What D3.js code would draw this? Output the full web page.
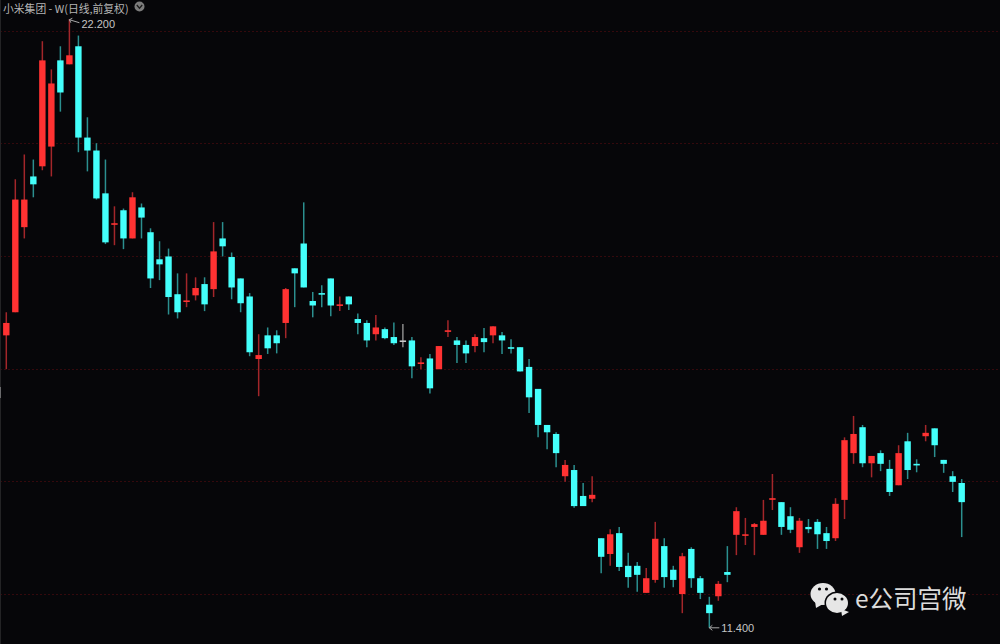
<!DOCTYPE html>
<html><head><meta charset="utf-8">
<script src="https://cdn.jsdelivr.net/npm/d3@7/dist/d3.min.js"></script>
<style>html,body{margin:0;padding:0;background:#060609;overflow:hidden}svg{display:block}</style>
</head><body><svg id="c" width="1000" height="644"></svg>
<script>
const opens=[16.59,17.00,18.51,19.41,19.59,19.94,21.47,21.40,21.72,20.10,19.87,19.11,18.56,18.81,18.31,18.86,18.42,17.94,17.99,17.32,17.20,17.30,17.50,17.41,18.31,17.98,17.60,17.28,16.17,16.59,16.59,16.81,17.78,18.22,17.20,17.34,17.60,17.12,17.28,16.88,16.81,16.61,16.70,16.56,16.50,16.50,16.10,16.18,15.99,16.66,16.50,16.42,16.40,16.54,16.59,16.59,16.38,16.38,16.03,15.64,15.00,14.84,14.09,14.20,13.74,13.69,12.99,12.71,13.08,12.50,12.50,12.02,12.25,12.85,12.43,12.00,12.80,12.28,11.81,11.96,12.39,13.05,13.05,13.19,13.05,13.69,13.63,13.38,12.83,13.19,13.28,13.08,12.99,13.67,14.50,14.96,14.32,14.50,14.22,13.93,14.71,14.31,14.80,14.94,14.38,14.09,13.97];
const closes=[16.81,19.00,19.00,19.27,21.47,21.06,20.90,21.56,20.10,19.87,19.02,18.24,18.58,18.31,19.04,18.68,17.60,17.85,17.27,17.00,17.21,17.43,17.14,18.08,18.17,17.44,17.16,16.29,16.24,16.36,16.45,17.41,17.69,17.44,17.12,17.32,17.12,17.14,17.14,16.81,16.50,16.73,16.54,16.45,16.50,16.04,16.11,15.65,16.40,16.68,16.42,16.27,16.56,16.47,16.75,16.50,16.36,15.95,15.49,15.00,14.87,14.50,14.29,13.56,13.56,13.76,12.66,13.06,12.48,12.30,12.34,12.28,12.98,12.30,12.25,12.67,12.28,12.02,11.66,12.18,12.34,13.47,13.06,13.24,13.30,13.70,13.19,13.14,13.30,13.15,13.06,12.94,13.60,14.73,14.84,14.32,14.45,14.31,13.81,14.50,14.20,14.29,14.86,14.64,14.31,13.99,13.63];
const highs=[17.00,19.36,19.80,19.71,21.81,21.31,21.72,22.20,21.91,20.46,20.00,19.71,18.88,18.84,19.13,18.93,18.49,18.26,18.13,17.69,17.69,17.62,17.62,18.60,18.60,18.06,17.60,17.34,16.61,16.73,16.68,17.43,17.78,18.95,17.36,17.48,17.60,17.28,17.28,16.98,16.86,16.95,16.73,16.82,16.79,16.56,16.20,16.26,16.40,16.86,16.56,16.50,16.61,16.72,16.75,16.65,16.52,16.38,16.17,15.64,15.00,14.87,14.38,14.29,13.97,14.09,12.99,13.15,13.19,12.73,12.57,12.46,13.28,12.99,12.50,12.73,12.83,12.32,11.95,12.23,12.85,13.54,13.35,13.26,13.67,14.13,13.63,13.54,13.35,13.33,13.33,13.19,13.70,14.78,15.16,15.00,14.45,14.55,14.38,14.64,14.86,14.39,15.00,14.94,14.38,14.18,14.04];
const lows=[15.99,17.00,18.31,19.04,19.52,19.41,20.56,21.40,19.84,19.50,19.00,18.21,18.19,18.12,18.31,18.31,17.43,17.57,16.96,16.89,17.09,17.21,17.02,17.27,17.99,17.23,17.00,16.22,15.51,16.26,16.27,16.54,17.09,17.44,16.91,17.09,16.93,17.02,17.04,16.61,16.38,16.50,16.52,16.42,16.38,15.83,15.99,15.56,15.99,16.56,16.10,16.10,16.29,16.29,16.45,16.26,16.27,15.95,15.21,14.78,14.57,14.25,13.99,13.53,13.56,13.63,12.37,12.50,12.41,12.11,12.04,12.02,12.20,12.11,12.12,11.66,12.11,11.91,11.40,11.88,12.21,12.69,12.87,12.69,13.05,13.49,13.05,13.08,12.73,13.08,12.80,12.80,12.94,13.33,14.31,14.25,14.07,14.18,13.74,13.93,14.04,14.16,14.71,14.43,14.15,13.81,13.01];
const gridLevels=[12,14,16,18,20,22];
const titleText="小米集团 - W(日线,前复权)";
const highLabel="22.200", lowLabel="11.400";
const watermark="e公司宫微";

const BG="#060609",UP="#ff3232",DOWN="#44fffb",UPW="#a3262a",DOWNW="#2b8f8f",FLAT="#c8c8c8",FLATW="#8a8a8a";
const svg=d3.select("#c");
const x=d3.scalePoint().domain(d3.range(opens.length)).range([6.3,961.7]);
const y=d3.scaleLinear().domain([12,22]).range([594,30.5]);

svg.append("g").selectAll("line").data(gridLevels).join("line")
 .attr("x1",0).attr("x2",1000).attr("y1",d=>Math.round(y(d))+.5).attr("y2",d=>Math.round(y(d))+.5)
 .attr("stroke","#34090d").attr("stroke-width",1).attr("stroke-dasharray","2,2");

svg.append("line").attr("x1",.5).attr("x2",.5).attr("y1",0).attr("y2",644).attr("stroke","#232325");
svg.append("line").attr("x1",.5).attr("x2",.5).attr("y1",387).attr("y2",398).attr("stroke","#6a6a6c");

const idx=d3.range(opens.length);
const col=i=>closes[i]>opens[i]?UP:closes[i]<opens[i]?DOWN:FLAT;
const colW=i=>closes[i]>opens[i]?UPW:closes[i]<opens[i]?DOWNW:FLATW;
const g=svg.append("g");
g.selectAll("line").data(idx).join("line")
 .attr("x1",i=>x(i)).attr("x2",i=>x(i)).attr("y1",i=>y(highs[i])).attr("y2",i=>y(lows[i]))
 .attr("stroke",colW).attr("stroke-width",1.5);
g.selectAll("rect").data(idx).join("rect")
 .attr("x",i=>x(i)-3.2).attr("width",6.4)
 .attr("y",i=>y(Math.max(opens[i],closes[i])))
 .attr("height",i=>Math.max(1.6,Math.abs(y(opens[i])-y(closes[i]))))
 .attr("fill",col);

svg.append("text").attr("x",3).attr("y",12.6).attr("fill","#b4b4b4")
 .attr("font-family","'Noto Sans CJK SC',sans-serif").attr("font-size",10.8).text(titleText);
svg.append("circle").attr("cx",139.5).attr("cy",6.5).attr("r",5).attr("fill","#7c7c7c");
svg.append("path").attr("d","M136.8 5 L139.5 8.2 L142.2 5").attr("fill","none").attr("stroke","#1c1c1c").attr("stroke-width",1.3);

const hi=highs.indexOf(d3.max(highs)), lo=lows.indexOf(d3.min(lows));
const ann=svg.append("g").attr("fill","none").attr("stroke","#a8a8a8").attr("stroke-width",1);
ann.append("path").attr("d",`M${x(hi)} ${y(highs[hi])+.5} l10 3 M${x(hi)} ${y(highs[hi])+.5} l3 -1.5 M${x(hi)} ${y(highs[hi])+.5} l1.5 3`);
ann.append("path").attr("d",`M${x(lo)} ${y(lows[lo])} h10 M${x(lo)} ${y(lows[lo])} l3 -2.5 M${x(lo)} ${y(lows[lo])} l3 2.5`);
svg.append("text").attr("x",x(hi)+12).attr("y",y(highs[hi])+9).attr("fill","#c4c4c4")
 .attr("font-family","'Liberation Sans',sans-serif").attr("font-size",11).text(highLabel);
svg.append("text").attr("x",x(lo)+12).attr("y",y(lows[lo])+4).attr("fill","#c4c4c4")
 .attr("font-family","'Liberation Sans',sans-serif").attr("font-size",11).text(lowLabel);

const w=svg.append("g");
function bubble(cx,cy,rx,ry,tx,f){
 w.append("ellipse").attr("cx",cx).attr("cy",cy).attr("rx",rx).attr("ry",ry).attr("fill",f);
 w.append("path").attr("d",`M${tx} ${cy+ry-4} l1 7 l7 -4z`).attr("fill",f);
}
bubble(823,594,12.5,11,815,"#e6e6e6");
w.append("circle").attr("cx",819.5).attr("cy",589).attr("r",1.6).attr("fill",BG);
w.append("circle").attr("cx",826.5).attr("cy",589).attr("r",1.6).attr("fill",BG);
w.append("ellipse").attr("cx",837).attr("cy",603).attr("rx",12.5).attr("ry",11.5).attr("fill",BG);
bubble(837,603,11,10,841,"#e6e6e6");
w.append("circle").attr("cx",835).attr("cy",599).attr("r",1.5).attr("fill",BG);
w.append("circle").attr("cx",842).attr("cy",599).attr("r",1.5).attr("fill",BG);
svg.append("text").attr("x",855).attr("y",608).attr("fill","#dcdcdc")
 .attr("font-family","'Noto Sans CJK SC',sans-serif").attr("font-size",24.5).text(watermark);
</script></body></html>
